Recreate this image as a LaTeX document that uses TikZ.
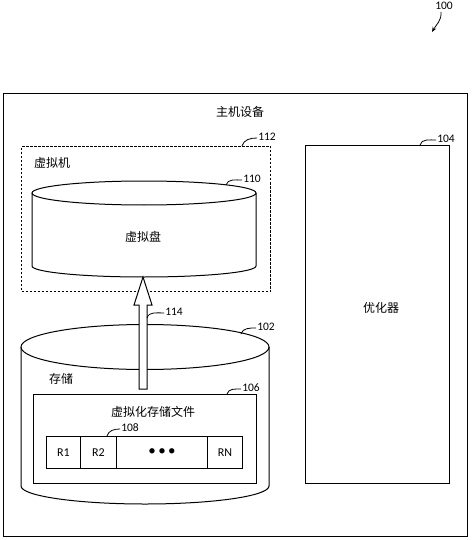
\documentclass[tikz,border=0pt]{standalone}
\usepackage{fontspec}
\setmainfont{Carlito}
\newfontfamily\cjk{Noto Sans CJK SC}
\usetikzlibrary{arrows.meta,calc}
\begin{document}
\begin{tikzpicture}[x=1pt,y=1pt,
  line/.style={draw=black, line width=1pt},
  box/.style={draw=black, line width=1pt, fill=white, inner sep=0pt, anchor=north west},
  cn/.style={font=\cjk\fontsize{12}{14}\selectfont, inner sep=0pt},
  num/.style={font=\fontsize{11.5}{13}\selectfont, inner sep=0pt},
  rtxt/.style={font=\fontsize{12}{14}\selectfont},
  leader/.style={draw=black, line width=0.8pt},
]
\useasboundingbox (0,0) rectangle (474,-540);

% host device
\node[box, line width=1.4pt, minimum width=464pt, minimum height=443pt] (host) at (3,-93) {};
\node[cn] (hostlbl) at (240,-112) {主机设备};

% optimizer
\node[box, minimum width=144pt, minimum height=338pt] (opt) at (305,-145) {};
\node[cn] (optlbl) at (381,-308) {优化器};

% virtual machine
\node[box, dash pattern=on 2.5pt off 1.5pt, minimum width=249pt, minimum height=145pt] (vm) at (21,-146) {};
\node[cn] (vmlbl) at (52,-163) {虚拟机};

% virtual disk cylinder 110
\coordinate (vdtop) at (144,-193);
\draw[line, fill=white] (32,-193) -- (32,-266) arc[start angle=180, end angle=360, x radius=112, y radius=11] -- (256,-193);
\draw[line] (vdtop) ellipse[x radius=112, y radius=12];
\node[cn] (vdlbl) at (143,-237) {虚拟盘};

% storage cylinder 102
\coordinate (sttop) at (145,-347);
\draw[line, fill=white] (21,-347) -- (21,-486) arc[start angle=180, end angle=360, x radius=124, y radius=18] -- (269,-347);
\draw[line] (sttop) ellipse[x radius=124, y radius=22.5];
\node[cn] (stlbl) at (61,-379) {存储};

% virtualized storage file 106
\node[box, minimum width=223pt, minimum height=89pt] (vsf) at (33,-394) {};
\node[cn] (vsflbl) at (153,-412) {虚拟化存储文件};

% records
\node[box, rtxt, minimum width=34pt, minimum height=32pt] (r1) at (46,-436) {R1};
\node[box, rtxt, minimum width=36pt, minimum height=32pt] (r2) at (80,-436) {R2};
\node[box, font=\fontsize{15}{16}\selectfont, minimum width=91pt, minimum height=32pt] (rdots) at (116,-436) {\textbullet\hspace{2.5pt}\textbullet\hspace{2.5pt}\textbullet};
\node[box, rtxt, minimum width=35pt, minimum height=32pt] (rn) at (207,-436) {RN};

% block arrow 114
\coordinate (abase) at (143,-389);
\coordinate (atip) at (143,-277);
\draw[line, fill=white] ($(abase)+(-4,0)$) -- ($(atip)+(-4,-28)$) -- ($(atip)+(-9,-28)$) -- (atip)
  -- ($(atip)+(9,-28)$) -- ($(atip)+(4,-28)$) -- ($(abase)+(4,0)$) -- cycle;

% reference numerals
\node[num] (n100) at (444,-6) {100};
\node[num] (n112) at (267,-137) {112};
\node[num] (n110) at (252,-179) {110};
\node[num] (n104) at (446,-139) {104};
\node[num] (n114) at (174,-312) {114};
\node[num] (n102) at (266,-327) {102};
\node[num] (n106) at (251,-388) {106};
\node[num] (n108) at (130,-428) {108};

% leaders
\coordinate (l112) at (242,-146);
\coordinate (l110) at (226,-185);
\coordinate (l104) at (420,-145);
\coordinate (l114) at (147,-318);
\coordinate (l102) at (241,-334);
\coordinate (l106) at (227,-394);
\coordinate (l108) at (107,-436);
\coordinate (a100) at (441,-12);
\coordinate (e100) at (432,-32);

\draw[leader] (l112) to[out=75,in=180] ($(n112.west)+(-1,-1)$);
\draw[leader] (l110) to[out=75,in=180] ($(n110.west)+(-1,-1)$);
\draw[leader] (l104) to[out=75,in=180] ($(n104.west)+(-1,-1)$);
\draw[leader] (l114) to[out=75,in=180] ($(n114.west)+(-1,-1)$);
\draw[leader] (l102) to[out=75,in=180] ($(n102.west)+(-1,-1)$);
\draw[leader] (l106) to[out=75,in=180] ($(n106.west)+(-1,-1)$);
\draw[leader] (l108) to[out=75,in=180] ($(n108.west)+(-1,-1)$);
\draw[leader, -{Stealth[length=5pt,width=4pt]}] (a100) to[out=-85,in=60] (e100);
\end{tikzpicture}
\end{document}
